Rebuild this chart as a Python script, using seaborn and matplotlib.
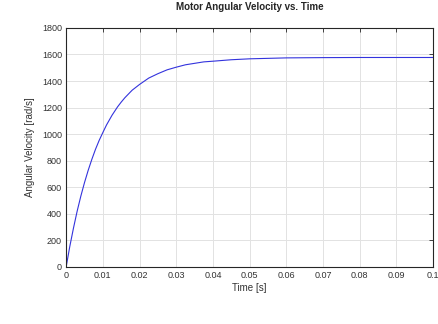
import matplotlib
matplotlib.use("Agg")
import matplotlib.pyplot as plt
import seaborn as sns
import pandas as pd

time_s = [0, 0.001, 0.002, 0.003, 0.004, 0.005, 0.006, 0.007, 0.008, 0.009, 0.010,
          0.011, 0.0125, 0.014, 0.015, 0.016, 0.0175, 0.018, 0.020, 0.0225, 0.025,
          0.0275, 0.030, 0.0325, 0.035, 0.0375, 0.040, 0.045, 0.050, 0.060, 0.070,
          0.080, 0.090, 0.100]
omega = [0, 155, 293, 420, 533, 635, 727, 810, 886, 953, 1012,
         1069, 1142, 1205, 1241, 1274, 1317, 1331, 1374, 1422, 1455,
         1484, 1504, 1522, 1533, 1544, 1549, 1560, 1567, 1574, 1576,
         1577, 1577, 1577]
xticks = [0, 0.01, 0.02, 0.03, 0.04, 0.05, 0.06, 0.07, 0.08, 0.09, 0.1]
xticklabels = ["0", "0.01", "0.02", "0.03", "0.04", "0.05", "0.06", "0.07", "0.08", "0.09", "0.1"]
yticks = [0, 200, 400, 600, 800, 1000, 1200, 1400, 1600, 1800]

sns.set_style("white")
plt.rcParams['font.family'] = ['Liberation Sans', 'DejaVu Sans']

df = pd.DataFrame({"Time [s]": time_s, "Angular Velocity [rad/s]": omega})

fig = plt.figure(figsize=(4.38, 3.24), dpi=100)
ax = fig.add_axes([0.151, 0.176, 0.838, 0.738])
sns.lineplot(data=df, x="Time [s]", y="Angular Velocity [rad/s]", ax=ax,
             color="#3333dd", linewidth=0.8)
ax.set_xlim(0, 0.1)
ax.set_ylim(0, 1800)
ax.set_xticks(xticks)
ax.set_xticklabels(xticklabels)
ax.set_yticks(yticks)
ax.grid(True, color="#e2e2e2", linewidth=0.7)
ax.set_axisbelow(True)
for s in ax.spines.values():
    s.set_color("#262626")
    s.set_linewidth(0.8)
    s.set_visible(True)
ax.tick_params(direction="in", length=3, width=0.6, colors="#262626",
               labelsize=6.5, top=True, right=True, pad=3)
for lbl in ax.get_xticklabels() + ax.get_yticklabels():
    lbl.set_color("#333333")
ax.set_xlabel("Time [s]", fontsize=7, color="#333333", labelpad=2)
ax.set_ylabel("Angular Velocity [rad/s]", fontsize=7, color="#333333", labelpad=5)
ax.set_title("Motor Angular Velocity vs. Time", fontsize=7, fontweight="bold", pad=13)
fig.savefig("out.png", dpi=100)
